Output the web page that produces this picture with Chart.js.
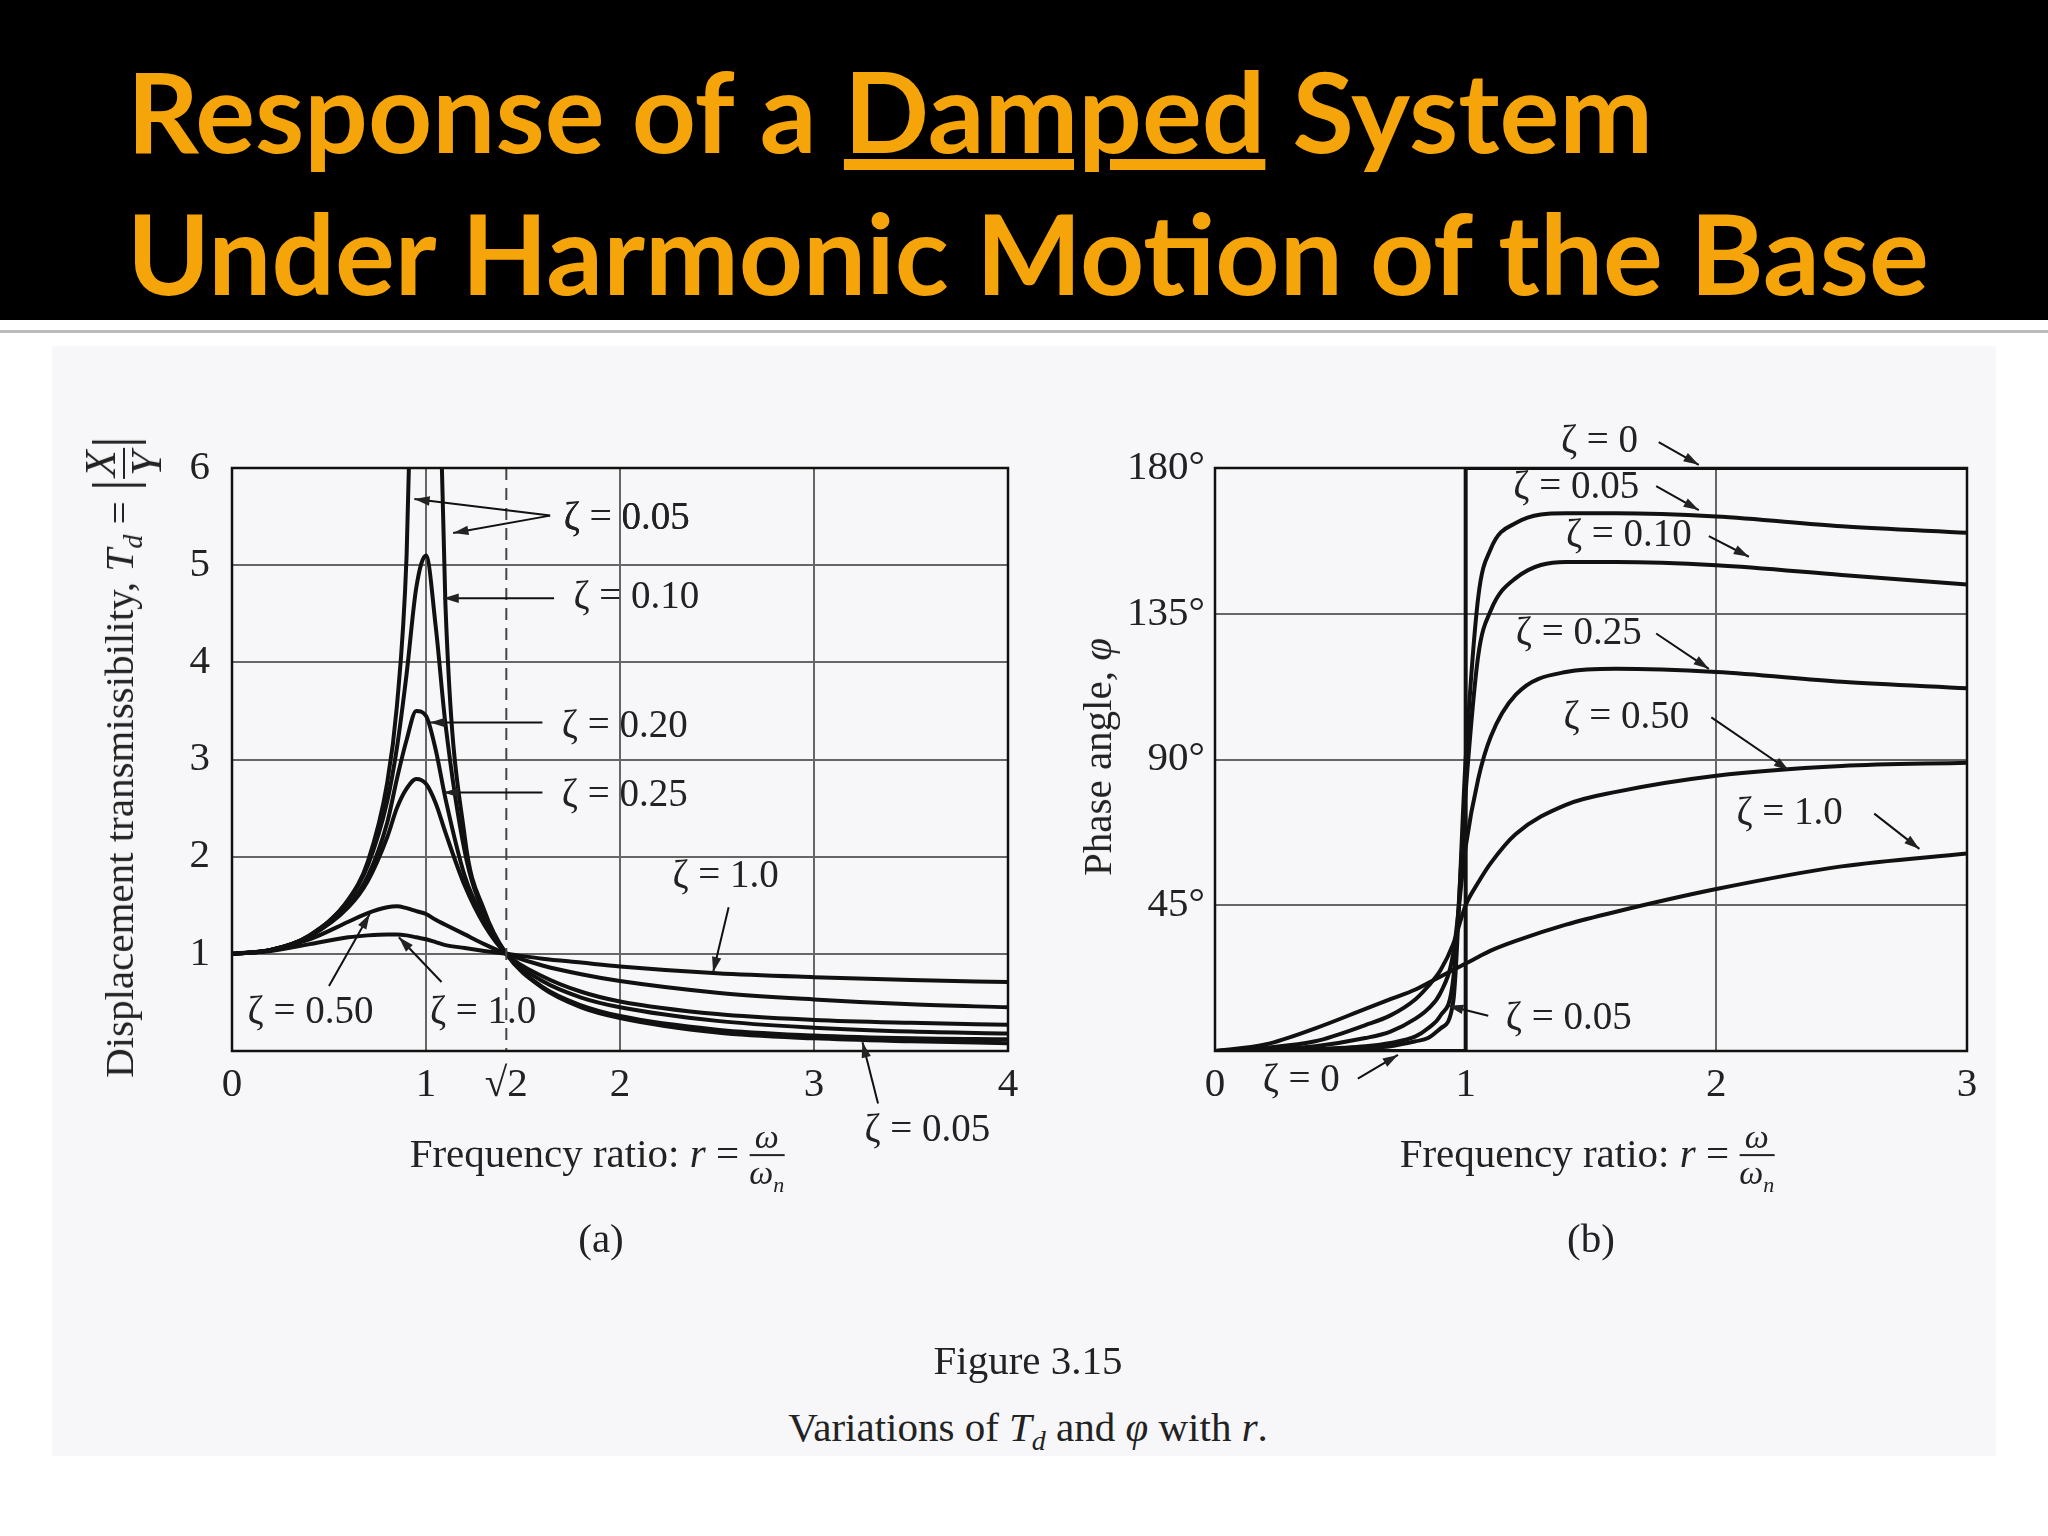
<!DOCTYPE html>
<html>
<head>
<meta charset="utf-8">
<script src="https://cdn.jsdelivr.net/npm/chart.js@4.4.0/dist/chart.umd.min.js"></script>
<style>
  body { margin: 0; width: 2048px; height: 1536px; background: #fff; position: relative; overflow: hidden; }
  #bar { position: absolute; left: 0; top: 0; width: 2048px; height: 320px; background: #000; }
  #rule { position: absolute; left: 0; top: 330px; width: 2048px; height: 3px; background: #bbb; }
  .title { position: absolute; left: 127px; font-family: Lato, sans-serif; font-weight: bold; font-size: 112px; color: #F5A50A; white-space: nowrap; }
  #fig { position: absolute; left: 52px; top: 346px; width: 1944px; height: 1110px; background: #f7f7f9; }
  .t { position: absolute; font-family: "Liberation Serif", "DejaVu Serif", serif; font-size: 41px; color: #222; white-space: nowrap; transform: translate(-50%, -50%); }
  .frac { display: inline-block; vertical-align: middle; text-align: center; font-size: 34px; line-height: 1.0; }
  .frac span { display: block; }
  .frac .num { border-bottom: 2px solid #222; padding: 0 2px; }
  .big { font-size: 44px; }
  canvas { position: absolute; }
</style>
</head>
<body>
<div id="bar"></div>
<div class="title" style="top:42px">Response of a <u>Damped</u> System</div>
<div class="title" style="top:184px">Under Harmonic Motion of the Base</div>
<div id="rule"></div>
<div id="fig"></div>
<div style="position:absolute;left:0;top:340px;width:1040px;height:1000px"><canvas id="chartA" width="1040" height="1000"></canvas></div>
<div style="position:absolute;left:1060px;top:340px;width:988px;height:1000px"><canvas id="chartB" width="988" height="1000"></canvas></div>

<div class="t" style="left:124px;top:757px;transform:translate(-50%,-50%) rotate(-90deg)">Displacement transmissibility, <i>T<sub style="font-size:28px">d</sub></i> = <span style="font-size:60px">|</span><span class="frac big"><span class="num"><i>X</i></span><span><i>Y</i></span></span><span style="font-size:60px">|</span></div>
<div class="t" style="left:1097px;top:757px;transform:translate(-50%,-50%) rotate(-90deg)">Phase angle, <i>φ</i></div>
<div class="t" style="left:597px;top:1158px">Frequency ratio: <i>r</i> = <span class="frac"><span class="num"><i>ω</i></span><span><i>ω<sub style="font-size:22px">n</sub></i></span></span></div>
<div class="t" style="left:1587px;top:1158px">Frequency ratio: <i>r</i> = <span class="frac"><span class="num"><i>ω</i></span><span><i>ω<sub style="font-size:22px">n</sub></i></span></span></div>
<div class="t" style="left:601px;top:1238px">(a)</div>
<div class="t" style="left:1591px;top:1238px">(b)</div>
<div class="t" style="left:1028px;top:1360px">Figure 3.15</div>
<div class="t" style="left:1028px;top:1430px">Variations of <i>T<sub style="font-size:28px">d</sub></i> and <i>φ</i> with <i>r</i>.</div>

<script>
// ---- data for (a): transmissibility vs frequency ratio ----
const rA = [0, 0.2, 0.4, 0.6, 0.7, 0.8, 0.85, 0.9, 0.95, 1.0, 1.05, 1.1, 1.2, 1.3, 1.414, 1.6, 1.8, 2, 2.5, 3, 3.5, 4];
const td005 = [1, 1.04, 1.19, 1.56, 1.95, 2.76, 3.55, 5.1, 8.9, 10.05, 8.5, 4.6, 2.2, 1.45, 1.0, 0.65, 0.45, 0.34, 0.19, 0.13, 0.10, 0.08];
const td010 = [1, 1.04, 1.19, 1.55, 1.91, 2.57, 3.12, 3.88, 4.77, 5.1, 4.37, 3.37, 2.05, 1.40, 1.0, 0.66, 0.47, 0.36, 0.22, 0.16, 0.13, 0.12];
const td020 = [1, 1.04, 1.18, 1.5, 1.8, 2.35, 2.8, 3.2, 3.5, 3.45, 3.1, 2.6, 1.8, 1.35, 1.0, 0.72, 0.55, 0.45, 0.31, 0.24, 0.2, 0.18];
const td025 = [1, 1.04, 1.18, 1.48, 1.75, 2.2, 2.5, 2.7, 2.8, 2.75, 2.55, 2.25, 1.7, 1.3, 1.0, 0.77, 0.61, 0.51, 0.38, 0.32, 0.29, 0.27];
const td050 = [1, 1.04, 1.15, 1.33, 1.42, 1.48, 1.49, 1.47, 1.44, 1.41, 1.35, 1.3, 1.2, 1.1, 1.0, 0.88, 0.79, 0.72, 0.6, 0.53, 0.48, 0.45];
const td100 = [1, 1.03, 1.1, 1.17, 1.19, 1.2, 1.2, 1.19, 1.17, 1.15, 1.12, 1.09, 1.06, 1.03, 1.0, 0.95, 0.91, 0.87, 0.8, 0.76, 0.73, 0.71];
const ticksA = [0, 1, 1.414, 2, 3, 4];
const tickLabelsA = ['0', '1', '√2', '2', '3', '4'];

// ---- data for (b): phase angle vs frequency ratio ----
const rB = [0, 0.2, 0.4, 0.6, 0.7, 0.8, 0.85, 0.9, 0.95, 1.0, 1.05, 1.1, 1.2, 1.4, 1.6, 2, 2.5, 3];
const ph005 = [0, 0.1, 0.3, 1, 1.5, 3, 4, 7, 15, 90, 140, 155, 163, 166, 166, 165, 162, 160];
const ph010 = [0, 0.2, 0.6, 1.5, 2.5, 4.5, 7, 11, 22, 80, 122, 136, 146, 151, 151, 150, 147, 144];
const ph025 = [0, 0.5, 1.5, 4, 6, 10, 13, 18, 30, 63, 84, 97, 110, 117, 118, 117, 114, 112];
const ph050 = [0, 1, 3, 8, 11, 16, 20, 25, 33, 45, 52, 58, 67, 76, 80, 85, 88, 89];
const ph100 = [0, 2, 7, 13, 16, 19, 21, 23, 25, 27, 29, 31, 34, 39, 43, 50, 57, 61];
const rZero = [0, 1, 1, 3];
const phZero = [0, 0, 180, 180];
const ticksBY = [0, 45, 90, 135, 180];
const tickLabelsBY = ['', '45°', '90°', '135°', '180°'];

const serif = '"Liberation Serif", "DejaVu Serif", serif';
Chart.defaults.font.family = serif;
Chart.defaults.color = '#222';

function pts(xs, ys) { return xs.map((x, i) => ({ x: x, y: ys[i] })); }
function line(xs, ys) {
    return { data: pts(xs, ys), borderColor: '#111', borderWidth: 4, pointRadius: 0, cubicInterpolationMode: 'monotone', fill: false };
}

// labels: [text, x, y, fromX, fromY, toX, toY]
const labelsA = [
    ['ζ = 0.05', 1.71, 5.48, 1.64, 5.51, 0.94, 5.68],
    ['ζ = 0.05', 1.71, 5.48, 1.64, 5.51, 1.14, 5.33],
    ['ζ = 0.10', 1.76, 4.66, 1.66, 4.66, 1.09, 4.66],
    ['ζ = 0.20', 1.70, 3.34, 1.60, 3.38, 1.02, 3.38],
    ['ζ = 0.25', 1.70, 2.63, 1.60, 2.66, 1.09, 2.66],
    ['ζ = 1.0', 2.27, 1.79, 2.56, 1.48, 2.48, 0.81],
    ['ζ = 0.50', 0.08, 0.39, 0.50, 0.67, 0.71, 1.41],
    ['ζ = 1.0', 1.02, 0.39, 1.08, 0.71, 0.86, 1.17],
    ['ζ = 0.05', 3.26, -0.82, 3.33, -0.54, 3.25, 0.09]
];
const labelsB = [
    ['ζ = 0', 1.38, 188, 1.77, 188, 1.93, 181],
    ['ζ = 0.05', 1.19, 174, 1.76, 174.4, 1.93, 167],
    ['ζ = 0.10', 1.40, 159, 1.97, 159, 2.13, 152.6],
    ['ζ = 0.25', 1.20, 128.9, 1.76, 128.9, 1.97, 118],
    ['ζ = 0.50', 1.39, 103, 1.98, 103, 2.29, 86.6],
    ['ζ = 1.0', 2.08, 73.3, 2.63, 73.3, 2.81, 62.4],
    ['ζ = 0.05', 1.16, 10, 1.09, 10.9, 0.93, 14],
    ['ζ = 0', 0.19, -9.3, 0.57, -8.5, 0.73, -1.2]
];

function annotate(labels, dashAt) {
    return {
        id: 'annot',
        afterDraw(chart) {
            const ctx = chart.ctx, xs = chart.scales.x, ys = chart.scales.y, a = chart.chartArea;
            ctx.save();
            if (dashAt !== null) {
                ctx.strokeStyle = '#444'; ctx.lineWidth = 2; ctx.setLineDash([12, 8]);
                ctx.beginPath(); ctx.moveTo(xs.getPixelForValue(dashAt), a.top); ctx.lineTo(xs.getPixelForValue(dashAt), a.bottom); ctx.stroke();
                ctx.setLineDash([]);
            }
            ctx.strokeStyle = '#111'; ctx.lineWidth = 2.5; ctx.strokeRect(a.left, a.top, a.right - a.left, a.bottom - a.top);
            ctx.font = '39px ' + serif; ctx.fillStyle = '#222'; ctx.textBaseline = 'middle';
            labels.forEach(l => {
                ctx.fillText(l[0], xs.getPixelForValue(l[1]), ys.getPixelForValue(l[2]));
                const x0 = xs.getPixelForValue(l[3]), y0 = ys.getPixelForValue(l[4]);
                const x1 = xs.getPixelForValue(l[5]), y1 = ys.getPixelForValue(l[6]);
                ctx.lineWidth = 2;
                ctx.beginPath(); ctx.moveTo(x0, y0); ctx.lineTo(x1, y1); ctx.stroke();
                const ang = Math.atan2(y1 - y0, x1 - x0);
                ctx.beginPath();
                ctx.moveTo(x1, y1);
                ctx.lineTo(x1 - 16 * Math.cos(ang - 0.3), y1 - 16 * Math.sin(ang - 0.3));
                ctx.lineTo(x1 - 16 * Math.cos(ang + 0.3), y1 - 16 * Math.sin(ang + 0.3));
                ctx.closePath(); ctx.fill();
            });
            ctx.restore();
        }
    };
}

// Chart (a)
new Chart(document.getElementById('chartA'), {
    type: 'line',
    data: { datasets: [line(rA, td005), line(rA, td010), line(rA, td020), line(rA, td025), line(rA, td050), line(rA, td100)] },
    options: {
        responsive: false, animation: false,
        layout: { padding: { left: 0, top: 128, right: 32, bottom: 229 } },
        plugins: { legend: { display: false }, tooltip: { enabled: false } },
        scales: {
            x: {
                type: 'linear', min: 0, max: 4,
                afterBuildTicks: s => { s.ticks = ticksA.map(v => ({ value: v })); },
                afterFit: s => { s.height = 60; },
                ticks: { font: { size: 41 }, padding: 10, callback: (v, i) => tickLabelsA[i] },
                grid: { color: c => (c.tick && (c.tick.value === 1.414 || c.tick.value === 0)) ? 'rgba(0,0,0,0)' : '#666', lineWidth: 2, drawTicks: false },
                border: { display: false }
            },
            y: {
                min: 0, max: 6,
                afterFit: s => { s.width = 232; },
                ticks: { stepSize: 1, font: { size: 41 }, padding: 22, callback: v => v === 0 ? '' : v },
                grid: { color: '#666', lineWidth: 2, drawTicks: false },
                border: { display: false }
            }
        }
    },
    plugins: [annotate(labelsA, 1.414)]
});

// Chart (b)
new Chart(document.getElementById('chartB'), {
    type: 'line',
    data: { datasets: [line(rZero, phZero), line(rB, ph005), line(rB, ph010), line(rB, ph025), line(rB, ph050), line(rB, ph100)] },
    options: {
        responsive: false, animation: false,
        layout: { padding: { left: 0, top: 128, right: 81, bottom: 229 } },
        plugins: { legend: { display: false }, tooltip: { enabled: false } },
        scales: {
            x: {
                type: 'linear', min: 0, max: 3,
                afterFit: s => { s.height = 60; },
                ticks: { stepSize: 1, font: { size: 41 }, padding: 10 },
                grid: { color: '#666', lineWidth: 2, drawTicks: false },
                border: { display: false }
            },
            y: {
                min: 0, max: 180,
                afterFit: s => { s.width = 155; },
                afterBuildTicks: s => { s.ticks = ticksBY.map(v => ({ value: v })); },
                ticks: { font: { size: 41 }, padding: 10, callback: (v, i) => tickLabelsBY[i] },
                grid: { color: '#666', lineWidth: 2, drawTicks: false },
                border: { display: false }
            }
        }
    },
    plugins: [annotate(labelsB, null)]
});
</script>
</body>
</html>
